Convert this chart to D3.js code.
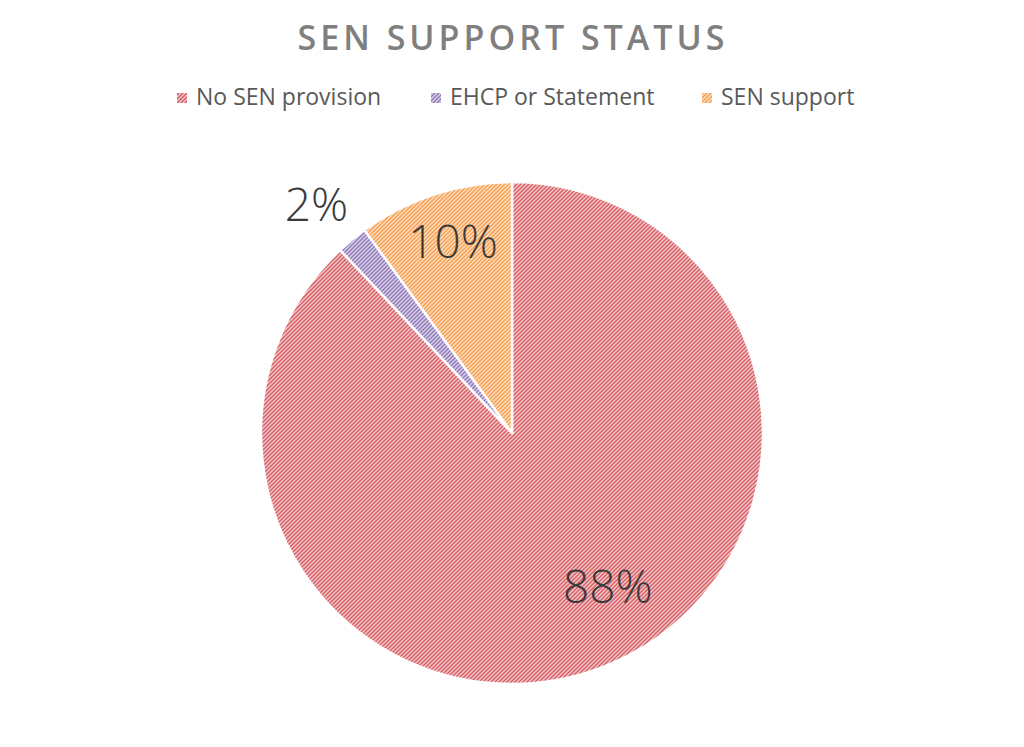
<!DOCTYPE html>
<html><head><meta charset="utf-8">
<script src="https://cdn.jsdelivr.net/npm/d3@7"></script>
<style>body{margin:0;background:#fff}</style>
</head><body>
<svg id="c" width="1024" height="747"></svg>
<script>
const categories = ["No SEN provision", "EHCP or Statement", "SEN support"];
const values = [88, 2, 10];
const labels = ["88%", "2%", "10%"];
const stripeColors = ["#d45f68", "#8f7ab9", "#f79f52"];
const bgColors = ["#f7caca", "#ddd4ea", "#fde0c2"];

const FONT = "'Open Sans', sans-serif";
const svg = d3.select("#c");
const defs = svg.append("defs");
categories.forEach((c, i) => {
  const p = defs.append("pattern").attr("id", "pat" + i)
    .attr("patternUnits", "userSpaceOnUse").attr("width", 4).attr("height", 4);
  p.append("rect").attr("width", 4).attr("height", 4).attr("fill", bgColors[i]);
  p.append("path").attr("d", "M-1,1 L1,-1 M0,4 L4,0 M3,5 L5,3")
    .attr("stroke", stripeColors[i]).attr("stroke-width", 1.5);
});

svg.append("text").attr("x", 513).attr("y", 50).attr("text-anchor", "middle")
  .attr("font-family", FONT).attr("font-weight", 600)
  .attr("font-size", 34).attr("letter-spacing", 4).attr("fill", "#7f7f7f")
  .text("SEN SUPPORT STATUS");

const legendX = [177, 431, 702];
const lg = svg.append("g");
categories.forEach((c, i) => {
  lg.append("rect").attr("x", legendX[i]).attr("y", 93).attr("width", 10).attr("height", 10)
    .attr("fill", `url(#pat${i})`);
  lg.append("text").attr("x", legendX[i] + 19).attr("y", 105)
    .attr("font-family", FONT).attr("font-size", 23).attr("fill", "#595959")
    .text(c);
});

const cx = 512, cy = 433, r = 251;
const pie = d3.pie().sort(null).value(d => d)(values);
const arc = d3.arc().innerRadius(0).outerRadius(r);
const g = svg.append("g").attr("transform", `translate(${cx},${cy})`);
g.selectAll("path").data(pie).join("path")
  .attr("d", arc).attr("fill", (d, i) => `url(#pat${i})`)
  .attr("stroke", "#fff").attr("stroke-width", 2.5).attr("stroke-linejoin", "round");

const labelR = [0.721, 1.2, 0.80];
const labelShiftDeg = [-10.4, -0.9, 0.9];
g.selectAll("text.lbl").data(pie).join("text").attr("class", "lbl")
  .attr("transform", (d, i) => {
    const a = (d.startAngle + d.endAngle) / 2 + labelShiftDeg[i] * Math.PI / 180;
    return `translate(${Math.sin(a) * r * labelR[i]},${-Math.cos(a) * r * labelR[i]})`;
  })
  .attr("text-anchor", "middle").attr("dy", "0.36em")
  .attr("font-family", FONT).attr("font-weight", 300)
  .attr("font-size", 46).attr("fill", "#3a3a3a")
  .text((d, i) => labels[i]);
</script>
</body></html>
